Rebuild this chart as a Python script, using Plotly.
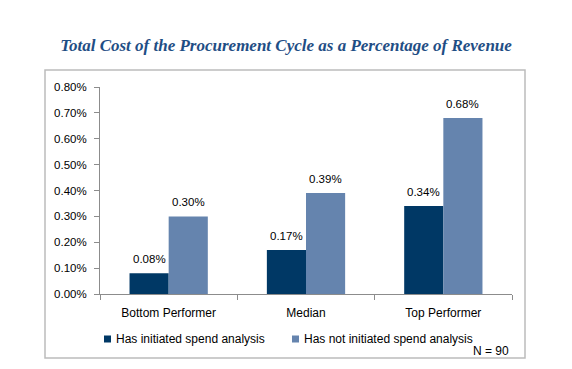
import plotly.graph_objects as go

categories = ["Bottom Performer", "Median", "Top Performer"]
initiated = [0.0008, 0.0017, 0.0034]
not_initiated = [0.0030, 0.0039, 0.0068]
series_names = ["Has initiated spend analysis", "Has not initiated spend analysis"]
tick_vals = [0, 0.001, 0.002, 0.003, 0.004, 0.005, 0.006, 0.007, 0.008]

DARK = "#003865"
LIGHT = "#6584ae"
FONT = "Liberation Sans"
colors = [DARK, LIGHT]

# the page body adds an 8px offset; layout coordinates below are in page px
OFF = 8
L, R, T, B = 100 - OFF, 512 - OFF, 87 - OFF, 294 - OFF
W, H = 572, 369
PW, PH = R - L, B - T
BARGAP = 0.43


def px(x):
    return (x - OFF - L) / PW


def py(y):
    return (B - (y - OFF)) / PH


fig = go.Figure()
for name, vals, col in zip(series_names, [initiated, not_initiated], colors):
    fig.add_trace(go.Bar(x=categories, y=vals, name=name,
                         marker=dict(color=col, line=dict(width=0)),
                         showlegend=False))

# value labels above each bar
bar_w = PW / len(categories) * (1 - BARGAP) / 2
for i, (vals) in enumerate([initiated, not_initiated]):
    shift = (i - 0.5) * bar_w
    for c, v in zip(categories, vals):
        fig.add_annotation(x=c, y=v, xref="x", yref="y", text=f"{v:.2%}",
                           showarrow=False, xshift=shift, yshift=14,
                           yanchor="middle",
                           font=dict(family=FONT, size=11.5, color="black"))

fig.update_layout(
    width=W, height=H,
    margin=dict(l=L, r=W - R, t=T, b=H - B, autoexpand=False),
    paper_bgcolor="white", plot_bgcolor="white",
    barmode="group", bargap=BARGAP, bargroupgap=0,
    showlegend=False,
    title=dict(text="<b><i>Total Cost of the Procurement Cycle as a Percentage of Revenue</i></b>",
               x=(286 - OFF) / W, xanchor="center",
               y=1 - (45 - OFF) / H, yanchor="middle",
               font=dict(family="Liberation Serif", size=17, color="#1f4e85")),
    font=dict(family=FONT, size=11.5, color="black"),
)
fig.update_yaxes(range=[0, 0.008], tickvals=tick_vals, tickformat=".2%",
                 showgrid=False, zeroline=False,
                 showline=True, linecolor="#8c8c8c", linewidth=1,
                 ticks="outside", ticklen=5, tickcolor="#8c8c8c",
                 ticklabelstandoff=5,
                 tickfont=dict(family=FONT, size=11.5, color="black"))
fig.update_xaxes(showgrid=False, showline=True, linecolor="#8c8c8c", linewidth=1,
                 ticks="outside", ticklen=5, tickcolor="#8c8c8c", tickson="boundaries",
                 ticklabelstandoff=8,
                 tickfont=dict(family=FONT, size=12, color="black"))

# outer border box
fig.add_shape(type="rect", xref="paper", yref="paper",
              x0=px(45), x1=px(525), y0=py(358), y1=py(70),
              line=dict(color="#bcbcbc", width=1.5), fillcolor="rgba(0,0,0,0)", layer="below")

# legend (drawn manually to match the compact swatches)
legend_x = [104, 292]
for lx, name, col in zip(legend_x, series_names, colors):
    fig.add_shape(type="rect", xref="paper", yref="paper",
                  x0=px(lx), x1=px(lx + 7), y0=py(342.5), y1=py(335.5),
                  line=dict(width=0), fillcolor=col)
    fig.add_annotation(text=name, xref="paper", yref="paper",
                       x=px(lx + 10), xanchor="left", y=py(339), yanchor="middle",
                       showarrow=False, font=dict(family=FONT, size=12, color="black"))

fig.add_annotation(text="N = 90", xref="paper", yref="paper",
                   x=px(511), xanchor="right", y=py(351), yanchor="middle",
                   showarrow=False, font=dict(family=FONT, size=12, color="black"))

fig.write_html("out.html")
